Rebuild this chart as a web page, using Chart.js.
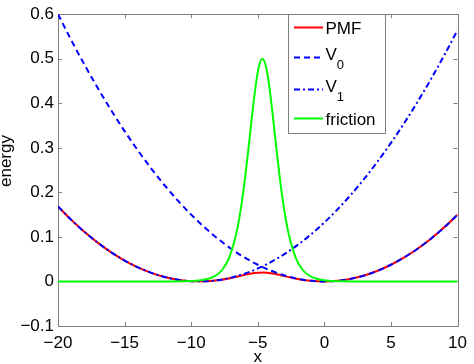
<!DOCTYPE html>
<html><head><meta charset="utf-8">
<script src="https://cdn.jsdelivr.net/npm/chart.js@4/dist/chart.umd.min.js"></script>
<style>html,body{margin:0;padding:0;background:#fff;overflow:hidden}#wrap{width:474px;height:364px;position:relative}</style>
</head><body><div id="wrap"><canvas id="c" width="474" height="364"></canvas></div>
<script>
// ---- data ----
const xGrid = [-20,-19,-18,-17,-16,-15,-14,-13,-12,-11,-10,-9,-8,-7,-6,-5,-4,-3,-2,-1,0,1,2,3,4,5,6,7,8,9,10];
const v0 = [0.600,0.5415,0.486,0.4335,0.384,0.3375,0.294,0.2535,0.216,0.1815,0.150,0.1215,0.096,0.0735,0.054,0.0375,0.024,0.0135,0.006,0.0015,0,0.0015,0.006,0.0135,0.024,0.0375,0.054,0.0735,0.096,0.1215,0.150];
const v1 = [0.1685,0.1382,0.1109,0.0866,0.0653,0.0470,0.0317,0.0194,0.0101,0.0038,0.0005,0.0002,0.0029,0.0086,0.0173,0.0290,0.0437,0.0614,0.0821,0.1058,0.1325,0.1622,0.1949,0.2306,0.2693,0.3110,0.3557,0.4034,0.4541,0.5078,0.5645];
const pmfX = [-20,-19,-18,-17,-16,-15,-14,-13,-12,-11,-10,-9,-8,-7,-6.5,-6,-5.5,-5,-4.5,-4,-3.5,-3,-2.5,-2,-1,0,1,2,3,4,5,6,7,8,9,10];
const pmf = [0.1685,0.1382,0.1109,0.0866,0.0653,0.0470,0.0317,0.0194,0.0101,0.0038,0.0005,0.0002,0.0029,0.0080,0.0113,0.0147,0.0178,0.0196,0.0199,0.0182,0.0154,0.0120,0.0087,0.0057,0.0015,0,0.0015,0.006,0.0135,0.024,0.0375,0.054,0.0735,0.096,0.1215,0.150];
const fricX = [-20,-15,-12,-10.65,-9.65,-8.65,-8.15,-7.65,-7.15,-6.65,-6.4,-6.15,-5.9,-5.65,-5.4,-5.15,-4.9,-4.65,-4.4,-4.15,-3.9,-3.65,-3.4,-3.15,-2.9,-2.65,-2.15,-1.65,-1.15,-0.65,0.35,1.35,4,10];
const friction = [0,0,0.0001,0.0004,0.0016,0.0066,0.0133,0.0268,0.0532,0.103,0.140,0.188,0.246,0.312,0.380,0.441,0.484,0.5,0.484,0.441,0.380,0.312,0.246,0.188,0.140,0.103,0.0532,0.0268,0.0133,0.0066,0.0016,0.0004,0,0];
const seriesNames = ['PMF','V_0','V_1','friction'];
const xTicks = [-20,-15,-10,-5,0,5,10];
const yTicks = [-0.1,0,0.1,0.2,0.3,0.4,0.5,0.6];
const xTitle = 'x';
const yTitle = 'energy';

const FONT = "'Liberation Sans', Arial, Helvetica, sans-serif";
const pts = (xs, ys) => xs.map((x, i) => ({x: x, y: ys[i]}));
const fmt = v => (v < 0 ? '\u2212' + Math.abs(v) : String(v));

const framePlugin = {
  id: 'frame',
  beforeDatasetsDraw(chart) {
    const {ctx, chartArea: a, scales} = chart;
    ctx.save();
    ctx.strokeStyle = '#7f7f7f';
    ctx.lineWidth = 1;
    ctx.beginPath();
    ctx.rect(Math.round(a.left) + 0.5, Math.round(a.top) + 0.5, Math.round(a.right - a.left), Math.round(a.bottom - a.top));
    const L = 4;
    xTicks.forEach(v => {
      const px = Math.round(scales.x.getPixelForValue(v)) + 0.5;
      ctx.moveTo(px, a.bottom); ctx.lineTo(px, a.bottom - L);
      ctx.moveTo(px, a.top); ctx.lineTo(px, a.top + L);
    });
    yTicks.forEach(v => {
      const py = Math.round(scales.y.getPixelForValue(v)) + 0.5;
      ctx.moveTo(a.left, py); ctx.lineTo(a.left + L, py);
      ctx.moveTo(a.right, py); ctx.lineTo(a.right - L, py);
    });
    ctx.stroke();
    ctx.restore();
  },
  afterDraw(chart) {
    const {ctx, chartArea: a} = chart;
    ctx.save();
    ctx.fillStyle = '#000';
    ctx.font = '17px ' + FONT;
    // axis titles
    ctx.textAlign = 'center';
    ctx.textBaseline = 'alphabetic';
    ctx.fillText(xTitle, (a.left + a.right) / 2, 362);
    ctx.save();
    ctx.translate(10.5, 161);
    ctx.rotate(-Math.PI / 2);
    ctx.fillText(yTitle, 0, 0);
    ctx.restore();
    // legend
    const bx = 288.5, by = 14.5, bw = 97, bh = 119;
    ctx.fillStyle = '#fff';
    ctx.fillRect(bx, by, bw, bh);
    ctx.strokeStyle = '#7f7f7f';
    ctx.lineWidth = 1;
    ctx.strokeRect(bx, by, bw, bh);
    const rows = [
      {ly: 27.5, base: 34, sub: 0},
      {ly: 57.5, base: 60, sub: 69},
      {ly: 89.5, base: 91.5, sub: 101},
      {ly: 118.5, base: 125, sub: 0}
    ];
    chart.data.datasets.forEach((ds, i) => {
      const r = rows[i];
      ctx.save();
      ctx.strokeStyle = ds.borderColor;
      ctx.lineWidth = ds.borderWidth;
      ctx.setLineDash(ds.borderDash || []);
      ctx.beginPath();
      ctx.moveTo(294, r.ly); ctx.lineTo(323, r.ly);
      ctx.stroke();
      ctx.restore();
      ctx.fillStyle = '#000';
      ctx.textAlign = 'left';
      const parts = seriesNames[i].split('_');
      ctx.font = '17px ' + FONT;
      ctx.fillText(parts[0], 325.5, r.base);
      if (parts.length > 1) {
        const w = ctx.measureText(parts[0]).width;
        ctx.font = '13px ' + FONT;
        ctx.fillText(parts[1], 325.5 + w, r.sub);
      }
    });
    ctx.restore();
  }
};

const tickFont = {family: FONT, size: 17};
new Chart(document.getElementById('c'), {
  type: 'line',
  data: {
    datasets: [
      {label: seriesNames[0], data: pts(pmfX, pmf), borderColor: '#ff0000', borderWidth: 2, order: 3, cubicInterpolationMode: 'monotone'},
      {label: seriesNames[1], data: pts(xGrid, v0), borderColor: '#0000ff', borderWidth: 2, borderDash: [6, 4], order: 2, cubicInterpolationMode: 'monotone'},
      {label: seriesNames[2], data: pts(xGrid, v1), borderColor: '#0000ff', borderWidth: 2, borderDash: [6, 3, 2, 3], order: 1, cubicInterpolationMode: 'monotone'},
      {label: seriesNames[3], data: pts(fricX, friction), borderColor: '#00ff00', borderWidth: 2, order: 0, cubicInterpolationMode: 'monotone'}
    ]
  },
  options: {
    responsive: false,
    animation: false,
    events: [],
    elements: {point: {radius: 0}},
    layout: {padding: {top: 6, right: 10, left: 0, bottom: 0}},
    plugins: {legend: {display: false}, tooltip: {enabled: false}},
    scales: {
      x: {
        type: 'linear', min: -20, max: 10,
        afterBuildTicks: s => { s.ticks = xTicks.map(v => ({value: v})); },
        afterFit: s => { s.height = 38; },
        grid: {display: false, drawTicks: false},
        border: {display: false},
        ticks: {font: tickFont, color: '#000', padding: 7, maxRotation: 0, autoSkip: false, callback: v => fmt(v)}
      },
      y: {
        type: 'linear', min: -0.1, max: 0.6,
        afterBuildTicks: s => { s.ticks = yTicks.map(v => ({value: v})); },
        afterFit: s => { s.width = 58; },
        grid: {display: false, drawTicks: false},
        border: {display: false},
        ticks: {font: tickFont, color: '#000', padding: 4, autoSkip: false, callback: v => fmt(v)}
      }
    }
  },
  plugins: [framePlugin]
});
</script>
</body></html>
